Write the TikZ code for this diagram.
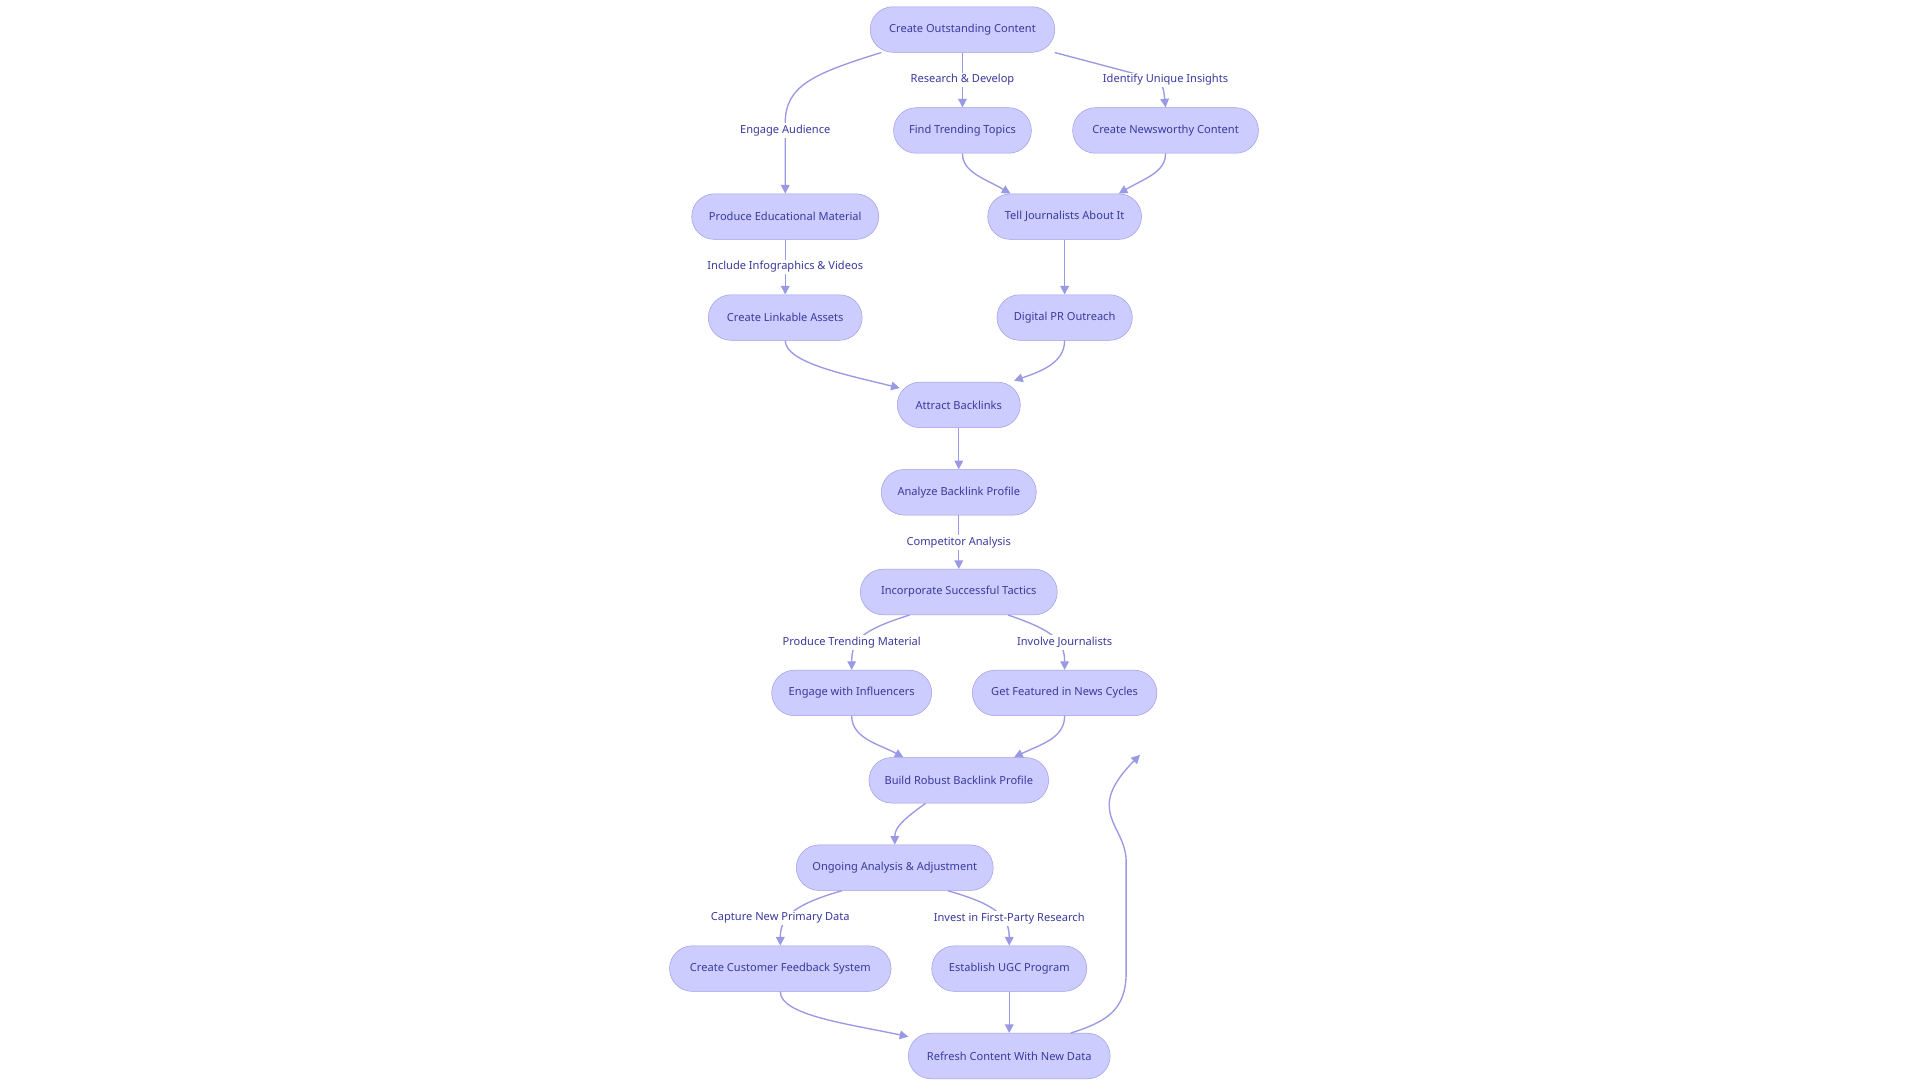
\documentclass[tikz,border=0pt]{standalone}
\usepackage{fontspec}
\setmainfont{Noto Sans}
\usetikzlibrary{arrows.meta}
\definecolor{nfill}{HTML}{CCCCFF}
\definecolor{nline}{HTML}{9D9CE8}
\definecolor{ntext}{HTML}{3A3A9E}
\definecolor{eline}{HTML}{9A9AE4}
\tikzset{
 box/.style={draw=nline,fill=nfill,rounded corners=18.5pt,minimum height=37pt,text=ntext,font=\fontsize{9}{10}\selectfont,inner xsep=0pt},
 conn/.style={draw=eline,line width=1.1pt,-{Triangle[length=7pt,width=7pt]}},
 lab/.style={fill=white,text=ntext,font=\fontsize{9}{10}\selectfont,inner sep=1.5pt}
}
\begin{document}
\begin{tikzpicture}[x=1pt,y=-1pt]
\useasboundingbox[fill=white] (0,0) rectangle (1560,877.5);
\node[box,minimum width=150pt] (A) at (782,24) {Create Outstanding Content};
\node[box,minimum width=112pt] (B) at (782,106) {Find Trending Topics};
\node[box,minimum width=151pt] (C) at (947,106) {Create Newsworthy Content};
\node[box,minimum width=152pt] (D) at (638,176) {Produce Educational Material};
\node[box,minimum width=125pt] (E) at (865,176) {Tell Journalists About It};
\node[box,minimum width=125pt] (F) at (638,258) {Create Linkable Assets};
\node[box,minimum width=110pt] (G) at (865,258) {Digital PR Outreach};
\node[box,minimum width=100pt] (H) at (779,329) {Attract Backlinks};
\node[box,minimum width=126pt] (I) at (779,400) {Analyze Backlink Profile};
\node[box,minimum width=160pt] (J) at (779,481) {Incorporate Successful Tactics};
\node[box,minimum width=130pt] (K) at (692,563) {Engage with Influencers};
\node[box,minimum width=150pt] (L) at (865,563) {Get Featured in News Cycles};
\node[box,minimum width=146pt] (M) at (779,634) {Build Robust Backlink Profile};
\node[box,minimum width=160pt] (N) at (727,705) {Ongoing Analysis \& Adjustment};
\node[box,minimum width=180pt] (O) at (634,787) {Create Customer Feedback System};
\node[box,minimum width=126pt] (P) at (820,787) {Establish UGC Program};
\node[box,minimum width=164pt] (Q) at (820,858) {Refresh Content With New Data};
% edges
\draw[conn] ([xshift=-66pt]A.south) .. controls (660,60) and (638,70) .. (638,100) -- (D.north);
\node[lab] at (638,106) {Engage Audience};
\draw[conn] (A.south) -- (B.north);
\node[lab] at (782,65) {Research \& Develop};
\draw[conn] ([xshift=75pt]A.south) -- (930,62) .. controls (945,68) .. (C.north);
\node[lab] at (947,65) {Identify Unique Insights};
\draw[conn] (B.south) .. controls (782,140) and (800,145) .. ([xshift=-44pt]E.north);
\draw[conn] (C.south) .. controls (947,140) and (930,145) .. ([xshift=44pt]E.north);
\draw[conn] (D.south) -- (F.north);
\node[lab] at (638,217) {Include Infographics \& Videos};
\draw[conn] (E.south) -- (G.north);
\draw[conn] (F.south) .. controls (638,295) and (690,305) .. ([xshift=-48pt,yshift=-5pt]H.north);
\draw[conn] (G.south) .. controls (865,295) and (845,302) .. ([xshift=45pt,yshift=1pt]H.north);
\draw[conn] (H.south) -- (I.north);
\draw[conn] (I.south) -- (J.north);
\node[lab] at (779,441) {Competitor Analysis};
\draw[conn] ([xshift=-40pt]J.south) .. controls (700,512) and (692,520) .. (K.north);
\node[lab] at (692,522) {Produce Trending Material};
\draw[conn] ([xshift=40pt]J.south) .. controls (855,512) and (865,520) .. (L.north);
\node[lab] at (865,522) {Involve Journalists};
\draw[conn] (K.south) .. controls (692,600) and (715,605) .. ([xshift=-45pt]M.north);
\draw[conn] (L.south) .. controls (865,600) and (845,605) .. ([xshift=45pt]M.north);
\draw[conn] ([xshift=-27pt]M.south) .. controls (735,665) and (727,672) .. (N.north);
\draw[conn] ([xshift=-43pt]N.south) .. controls (645,735) and (634,745) .. (O.north);
\node[lab] at (634,746) {Capture New Primary Data};
\draw[conn] ([xshift=43pt]N.south) .. controls (810,735) and (820,745) .. (P.north);
\node[lab] at (820,746) {Invest in First-Party Research};
\draw[conn] (O.south) .. controls (634,825) and (690,832) .. ([xshift=-82pt,yshift=-3pt]Q.north);
\draw[conn] (P.south) -- (Q.north);
\draw[conn] ([xshift=50pt]Q.north) .. controls (900,830) and (915,820) .. (915,790) -- (915,700) .. controls (915,670) and (880,660) .. ([xshift=74pt,yshift=2pt]M.north east);
\end{tikzpicture}
\end{document}
